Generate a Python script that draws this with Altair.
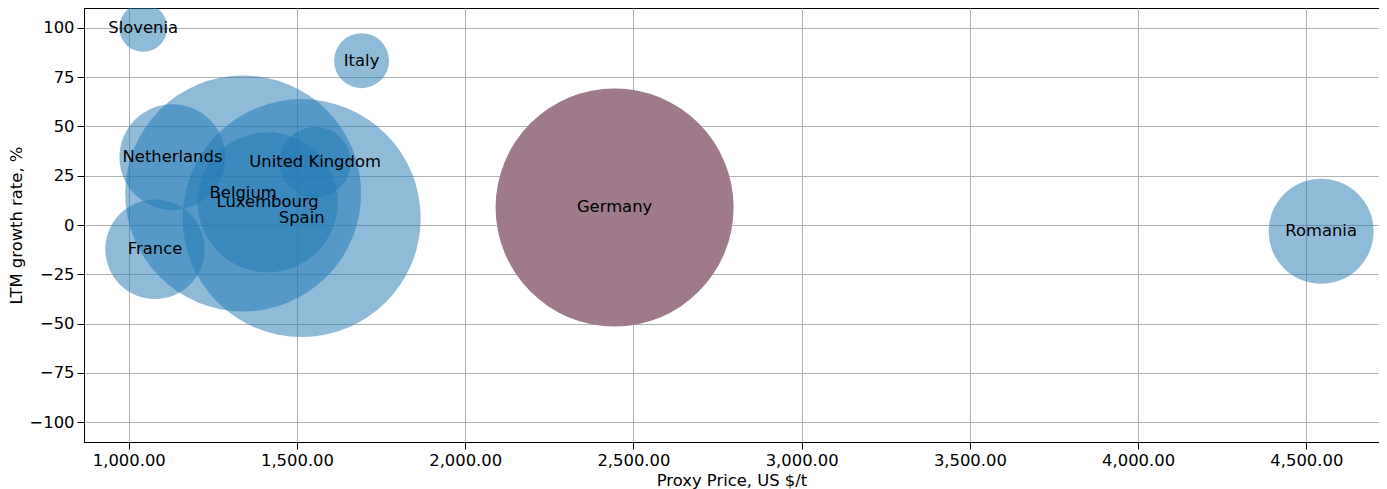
import altair as alt
import pandas as pd

# ---- data ----
countries = ["Slovenia", "Italy", "Netherlands", "France", "Belgium",
             "Luxembourg", "United Kingdom", "Spain", "Germany", "Romania"]
proxy_price = [1043, 1692, 1130, 1078, 1340, 1413, 1554, 1514, 2444, 4544]
ltm_growth = [100.0, 83.3, 34.4, -12.3, 16.0, 11.5, 31.8, 3.5, 8.9, -3.2]
market_volume = [576, 756, 2809, 2470, 13924, 4900, 1260, 14161, 14161, 2756]
highlight_country = "Germany"

x_ticks = [1000, 1500, 2000, 2500, 3000, 3500, 4000, 4500]
y_ticks = [-100, -75, -50, -25, 0, 25, 50, 75, 100]

df = pd.DataFrame({
    "country": countries,
    "price": proxy_price,
    "growth": ltm_growth,
    "volume": market_volume,
})
df["group"] = ["highlight" if c == highlight_country else "other" for c in countries]

vmax = max(market_volume)
FONT = "DejaVu Sans"
FS = 16.4

xscale = alt.Scale(domain=[867, 4716], nice=False, zero=False)
yscale = alt.Scale(domain=[-110, 110], nice=False, zero=False)

base = alt.Chart(df)

bubbles = base.mark_circle(clip=True, strokeWidth=0).encode(
    x=alt.X("price:Q", scale=xscale,
            axis=alt.Axis(title="Proxy Price, US $/t", values=x_ticks, format=",.2f")),
    y=alt.Y("growth:Q", scale=yscale,
            axis=alt.Axis(title="LTM growth rate, %", values=y_ticks, format="d")),
    size=alt.Size("volume:Q", scale=alt.Scale(type="linear", domain=[0, vmax], range=[0, 4 * vmax]),
                  legend=None),
    color=alt.Color("group:N", scale=alt.Scale(domain=["other", "highlight"],
                                               range=["#1f77b4", "#9e7a8a"]), legend=None),
    opacity=alt.Opacity("group:N", scale=alt.Scale(domain=["other", "highlight"],
                                                   range=[0.5, 1.0]), legend=None),
)

labels = base.mark_text(font=FONT, fontSize=FS, color="black",
                        baseline="middle", align="center").encode(
    x=alt.X("price:Q", scale=xscale),
    y=alt.Y("growth:Q", scale=yscale),
    text="country:N",
)

chart = alt.layer(bubbles, labels).properties(
    width=1295,
    height=434,
    autosize=alt.AutoSizeParams(type="none"),
    padding={"left": 76, "top": 0, "right": 0, "bottom": 47},
).configure_view(
    stroke="black", strokeWidth=1
).configure_axis(
    zindex=1,
    grid=True,
    gridColor="#b0b0b0",
    gridWidth=1,
    domainColor="black",
    domainWidth=1,
    tickColor="black",
    tickSize=7,
    labelFont=FONT,
    labelFontSize=FS,
    labelColor="black",
    labelPadding=3,
    labelFlush=False,
    titleFont=FONT,
    titleFontSize=FS,
    titleFontWeight="normal",
    titleColor="black",
    titlePadding=4,
)

chart.save("out.html", embed_options={"renderer": "svg", "actions": False})
